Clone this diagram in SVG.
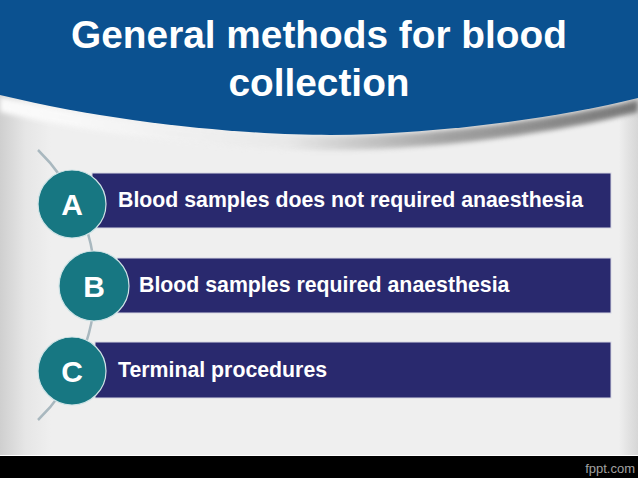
<svg xmlns="http://www.w3.org/2000/svg" width="638" height="478" viewBox="0 0 638 478">
<defs>
<style>
.title{font-family:"Liberation Sans",Arial,sans-serif;font-weight:bold;font-size:38.8px;fill:#ffffff;text-anchor:middle}
.item{font-family:"Liberation Sans",Arial,sans-serif;font-weight:bold;font-size:21.3px;fill:#ffffff}
.letter{font-family:"Liberation Sans",Arial,sans-serif;font-weight:bold;font-size:30px;fill:#ffffff;text-anchor:middle}
.bar{fill:#29296e;stroke:#d8d8e4;stroke-width:1}
.circ{fill:#177782;stroke:#cfe3e6;stroke-width:1.2}
.conn{fill:none;stroke:#a9b8bf;stroke-width:2.5}
</style>
<linearGradient id="bgL" x1="0" y1="0" x2="1" y2="0">
<stop offset="0" stop-color="#cfcfcf"/>
<stop offset="0.04" stop-color="#e6e6e6"/>
<stop offset="0.08" stop-color="#efefef"/>
<stop offset="0.97" stop-color="#efefef"/>
<stop offset="0.985" stop-color="#e2e2e2"/>
<stop offset="1" stop-color="#d6d6d6"/>
</linearGradient>
<linearGradient id="shade" x1="0" y1="0" x2="1" y2="0">
<stop offset="0" stop-color="#ffffff"/>
<stop offset="0.45" stop-color="#e8e8e8"/>
<stop offset="0.7" stop-color="#9a9a9a"/>
<stop offset="1" stop-color="#6a6a6a"/>
</linearGradient>
<filter id="blur" x="-5%" y="-50%" width="110%" height="200%"><feGaussianBlur stdDeviation="2.5"/></filter>
</defs>
<rect x="0" y="0" width="638" height="478" fill="url(#bgL)"/>
<path d="M0,97 C120,125 250,136 330,136 C430,136 550,120 638,100 L638,112 C550,134 430,150 330,150 C250,150 120,140 0,112 Z" fill="url(#shade)" filter="url(#blur)" opacity="0.9"/>
<path d="M0,0 H638 V98 C550,120 430,134 330,135 C250,135 120,124 0,95 Z" fill="#0b5190"/>
<g id="title">
<text class="title" x="319" y="48">General methods for blood</text>
<text class="title" x="319" y="96">collection</text>
</g>
<g id="connectors">
<path class="conn" d="M38,150 A188,188 0 0 1 38,420"/>
</g>
<g id="nodeA">
<rect class="bar" x="92" y="173" width="519" height="55"/>
<circle class="circ" cx="72" cy="204" r="34"/>
<text class="letter" x="72" y="215">A</text>
<text class="item" x="118" y="207">Blood samples does not required anaesthesia</text>
</g>
<g id="nodeB">
<rect class="bar" x="117" y="258" width="494" height="55"/>
<circle class="circ" cx="94" cy="286" r="35"/>
<text class="letter" x="94" y="297">B</text>
<text class="item" x="139" y="292">Blood samples required anaesthesia</text>
</g>
<g id="nodeC">
<rect class="bar" x="95" y="342" width="516" height="56"/>
<circle class="circ" cx="72" cy="371" r="34"/>
<text class="letter" x="72" y="382">C</text>
<text class="item" x="118" y="377">Terminal procedures</text>
</g>
<rect x="0" y="455" width="638" height="1" fill="#ffffff"/>
<rect x="0" y="456" width="638" height="22" fill="#000000"/>
<text x="635" y="473" font-family="Liberation Sans,Arial,sans-serif" font-size="13" fill="#a0a0a0" text-anchor="end">fppt.com</text>
</svg>
